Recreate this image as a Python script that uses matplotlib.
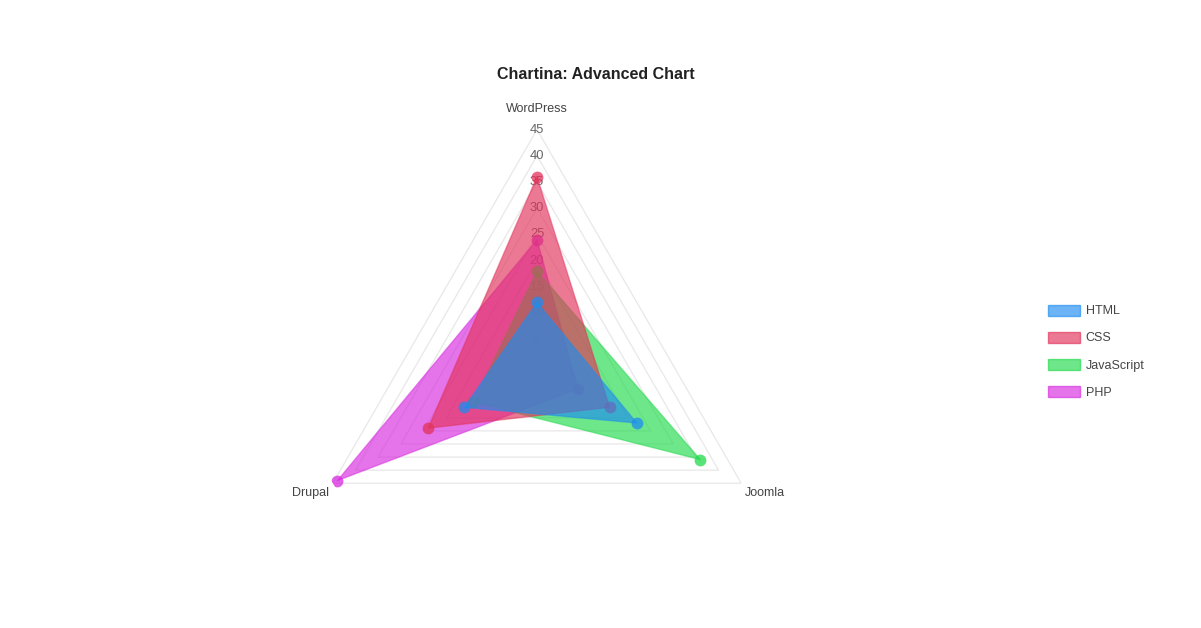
import numpy as np
import matplotlib
matplotlib.use("Agg")
import matplotlib.pyplot as plt
from matplotlib.patches import Patch

categories = ["WordPress", "Joomla", "Drupal"]
series_names = ["HTML", "CSS", "JavaScript", "PHP"]
html_vals = [12, 22, 16]
css_vals = [36, 16, 24]
js_vals = [18, 36, 14]
php_vals = [24, 9, 44]
tick_vals = [5, 10, 15, 20, 25, 30, 35, 40, 45]

colors = ["#1d8cf0", "#e2325a", "#20d94b", "#d729df"]
values = [html_vals, css_vals, js_vals, php_vals]

plt.rcParams["font.family"] = ["Liberation Sans", "DejaVu Sans"]

fig = plt.figure(figsize=(12.01, 6.28), dpi=100)
ax = fig.add_axes([0.2508, 0.0427, 0.3927, 0.751], projection="polar")
ax.set_theta_offset(np.pi / 2)
ax.set_theta_direction(-1)
ax.set_ylim(0, 45)
ax.grid(False)
ax.spines["polar"].set_visible(False)
ax.set_xticks([])
ax.set_yticks([])
ax.patch.set_alpha(0)

theta = np.linspace(0, 2 * np.pi, len(categories), endpoint=False)
theta_closed = np.append(theta, theta[0])

# triangular grid
for r in tick_vals:
    ax.plot(theta_closed, [r] * 4, color="#e8e8e8", lw=0.9, zorder=1)
    ax.text(0, r, str(r), ha="center", va="center", fontsize=9.3,
            color="#666666", zorder=2)

# datasets: first one on top
n = len(series_names)
for i in reversed(range(n)):
    v = values[i] + values[i][:1]
    z = 3 + (n - i) * 2
    ax.fill(theta_closed, v, color=colors[i], alpha=0.65, lw=0, zorder=z)
    ax.plot(theta_closed, v, color=colors[i], alpha=0.5, lw=1, zorder=z)
    ax.plot(theta, values[i], "o", ls="none", color=colors[i], alpha=0.75,
            markersize=8.5, markeredgewidth=0, zorder=z + 1)

# category labels
ax.annotate(categories[0], xy=(0, 45), xytext=(0, 21),
            textcoords="offset pixels", ha="center", va="center",
            fontsize=9, color="#444444")
ax.annotate(categories[1], xy=(theta[1], 45), xytext=(24, -10),
            textcoords="offset pixels", ha="center", va="center",
            fontsize=9, color="#444444")
ax.annotate(categories[2], xy=(theta[2], 45), xytext=(-22, -10),
            textcoords="offset pixels", ha="center", va="center",
            fontsize=9, color="#444444")

fig.text(0.496, 0.881, "Chartina: Advanced Chart", ha="center", va="center",
         fontsize=11.5, fontweight="bold", color="#222222")

handles = [Patch(facecolor=c, edgecolor=c, alpha=0.65, lw=1) for c in colors]
fig.legend(handles, series_names, loc="center left",
           bbox_to_anchor=(0.8635, 0.440), frameon=False, fontsize=9,
           handlelength=2.5, handleheight=0.95, handletextpad=0.5,
           labelspacing=1.15, labelcolor="#444444")

fig.savefig("out.png", dpi=100)
